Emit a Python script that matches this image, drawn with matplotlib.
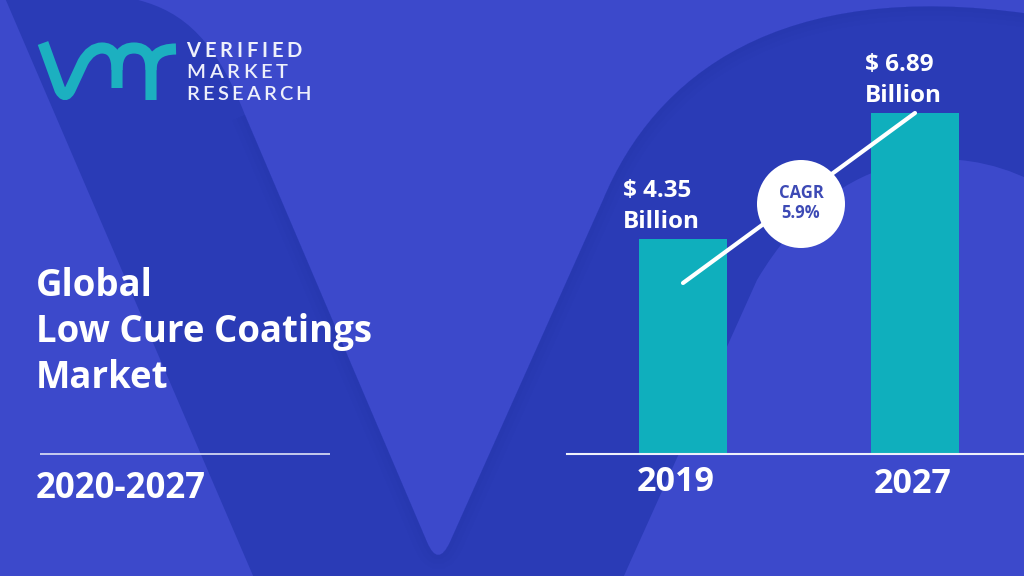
import matplotlib
matplotlib.use('Agg')
import matplotlib.pyplot as plt
from matplotlib.patches import Circle, PathPatch
from matplotlib.path import Path

# chart values
years = ['2019', '2027']
values = [4.35, 6.89]
unit = 'Billion'
cagr = '5.9%'
title_lines = ['Global', 'Low Cure Coatings', 'Market']
period = '2020-2027'
logo_words = ['VERIFIED', 'MARKET', 'RESEARCH']

LIGHT = '#3c49cb'
DARK = '#2a3bb6'
TEAL = '#0fafbd'
LOGO = '#1cb0c0'
INK = '#3d4ab5'
FONT = 'Open Sans'

M, L, C3, C4, Z = Path.MOVETO, Path.LINETO, Path.CURVE3, Path.CURVE4, Path.CLOSEPOLY

fig = plt.figure(figsize=(10.24, 5.76), dpi=100, facecolor=LIGHT)

# background layer, in pixels of the picture
bg = fig.add_axes([0, 0, 1, 1], zorder=0)
bg.set_xlim(0, 1024)
bg.set_ylim(576, 0)
bg.axis('off')

wedge = [(M, (5, -2)), (L, (130, -2)), (C4, (175, 8)), (C4, (212, 30)), (C4, (245, 115)),
         (L, (427, 542)), (C3, (438, 568)), (C3, (450, 542)),
         (L, (603, 200)), (C4, (655, 75)), (C4, (780, -22)), (C4, (1030, 14)),
         (L, (1030, 180)), (C4, (960, 145)), (C4, (840, 140)), (C4, (757, 280)),
         (L, (623, 578)), (L, (254, 578)), (Z, (5, -2))]
codes, verts = zip(*wedge)
dark_shape = PathPatch(Path(verts, codes), facecolor=DARK, edgecolor='none')
bg.add_patch(dark_shape)

# soft shadow along the light wedge and the big curve
edge = Path([(245, 115), (427, 542), (438, 568), (450, 542), (603, 200),
             (655, 75), (780, -22), (1030, 14)],
            [M, L, C3, C3, L, C4, C4, C4])
for lw, a in [(20, 0.03), (13, 0.04), (6, 0.05)]:
    s = bg.add_patch(PathPatch(edge, facecolor='none', edgecolor='#1c2a96', lw=lw, alpha=a))
    s.set_clip_path(dark_shape)

# logo
logo_paths = [
    ([(43, 43), (60, 90), (65, 99), (70, 90), (83, 62), (91, 48), (102, 48), (117, 48), (117, 70), (117, 88)],
     [M, L, C3, C3, L, C3, C3, C3, C3, L]),
    ([(117, 70), (117, 48), (134, 48), (151, 48), (151, 70), (151, 100)],
     [M, C3, C3, C3, C3, L]),
    ([(151, 70), (151, 49), (176, 49)], [M, C3, C3]),
]
for v, c in logo_paths:
    bg.add_patch(PathPatch(Path(v, c), facecolor='none', edgecolor=LOGO, lw=8, capstyle='butt'))


def spaced(ax, x, y, s, gap, **kw):
    # letter spacing by hand
    r = fig.canvas.get_renderer()
    for ch in s:
        t = ax.text(x, y, ch, **kw)
        x += t.get_window_extent(r).width + gap


for word, y, gap in zip(logo_words, [57, 78, 100], [3.8, 3.6, 3.1]):
    spaced(bg, 186.5, y, word, gap, color='#eef0fb', fontsize=14.5, family='Lato',
           weight='bold' if word == 'VERIFIED' else 600, ha='left', va='baseline')

# left column
for line, y in zip(title_lines, [296, 342, 388]):
    bg.text(36, y, line, color='white', fontsize=26.4, family=FONT, weight='bold',
            ha='left', va='baseline')
bg.plot([40, 330], [454, 454], color='#dfe2f6', lw=1.2, solid_capstyle='butt')
bg.text(36, 498, period, color='white', fontsize=25, family=FONT, weight='bold',
        ha='left', va='baseline')

# bars
px_per_unit = 49.5
ax = fig.add_axes([567 / 1024, (576 - 454) / 576, (1024 - 567) / 1024, 454 / 576], zorder=1)
ax.patch.set_visible(False)
ax.set_xlim(-0.5, 1.47)
ax.set_ylim(0, 454 / px_per_unit)
pos = range(len(years))
ax.bar(pos, values, width=0.378, color=TEAL)
for sp in ['top', 'left', 'right']:
    ax.spines[sp].set_visible(False)
ax.spines['bottom'].set_color('#eef0fb')
ax.spines['bottom'].set_linewidth(1.5)
ax.set_xticks([])
ax.set_yticks([])

for i, (yr, v) in enumerate(zip(years, values)):
    off = [-7, -2][i]
    ax.annotate(yr, (i, 0), xytext=(off, [-37, -39][i]), textcoords='offset pixels', color='white',
                fontsize=24.5, family=FONT, weight='bold', ha='center', va='baseline')
    ax.annotate(f'$ {v}', (i, v), xytext=(-60 if i == 0 else -50, 42), textcoords='offset pixels',
                color='white', fontsize=17.5, family=FONT, weight='bold', ha='left', va='baseline')
    ax.annotate(unit, (i, v), xytext=(-60 if i == 0 else -50, 11), textcoords='offset pixels',
                color='white', fontsize=17.5, family=FONT, weight='bold', ha='left', va='baseline')

# growth line and badge on top
fg = fig.add_axes([0, 0, 1, 1], zorder=2)
fg.set_xlim(0, 1024)
fg.set_ylim(576, 0)
fg.axis('off')
fg.plot([683, 915], [283, 113], color='white', lw=3, solid_capstyle='round')
fg.add_patch(Circle((801, 204), 44, facecolor='white', edgecolor='none', zorder=3))
fg.text(801, 193, 'CAGR', color=INK, fontsize=12, family=FONT, weight='bold', ha='center', va='center', zorder=4)
fg.text(801, 213, cagr, color=INK, fontsize=12, family=FONT, weight='bold', ha='center', va='center', zorder=4)

fig.savefig('out.png', dpi=100, facecolor=LIGHT)
